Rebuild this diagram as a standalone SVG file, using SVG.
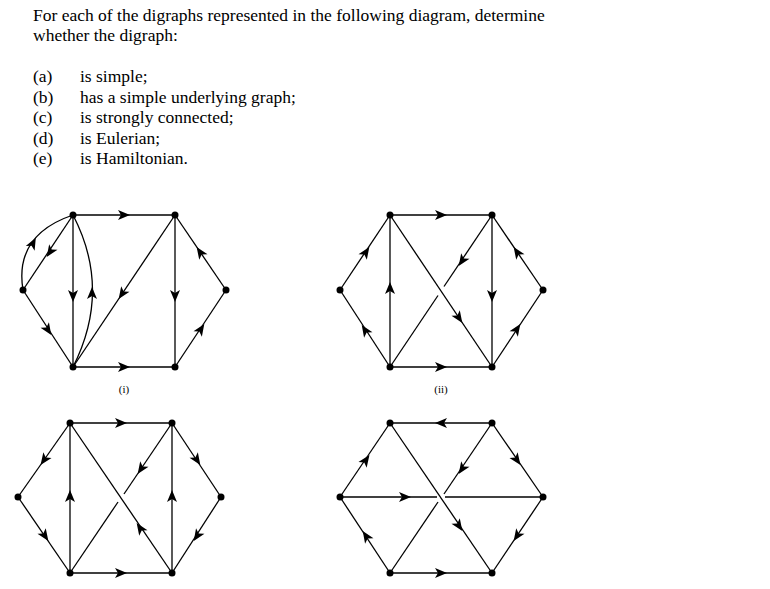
<svg xmlns="http://www.w3.org/2000/svg" width="770" height="589" viewBox="0 0 770 589">
<style>
text{font-family:"Liberation Serif","Times New Roman",serif;fill:#000}
.t{font-size:17.5px}
.s{font-size:11px}
line,path.e{stroke:#000;stroke-width:1.3;fill:none}
circle{fill:#000}
</style>
<defs>
<path id="a" d="M6,0 L-6,-5 L-3,0 L-6,5 Z" fill="#000"/>
</defs>
<rect width="770" height="589" fill="#fff"/>
<text class="t" x="33" y="21">For each of the digraphs represented in the following diagram, determine</text>
<text class="t" x="33" y="41">whether the digraph:</text>
<g>
<text class="t" x="33" y="82">(a)</text><text class="t" x="80" y="82">is simple;</text>
<text class="t" x="33" y="102.5">(b)</text><text class="t" x="80" y="102.5">has a simple underlying graph;</text>
<text class="t" x="33" y="123">(c)</text><text class="t" x="80" y="123">is strongly connected;</text>
<text class="t" x="33" y="143.5">(d)</text><text class="t" x="80" y="143.5">is Eulerian;</text>
<text class="t" x="33" y="164">(e)</text><text class="t" x="80" y="164">is Hamiltonian.</text>
</g>
<g id="connectors">
<line x1="73" y1="215" x2="175" y2="215"/>
<line x1="73" y1="215" x2="23" y2="290"/>
<path class="e" d="M23,290 Q14,235 73,215"/>
<line x1="73" y1="215" x2="73" y2="367"/>
<path class="e" d="M73,367 Q112,290 73,215"/>
<line x1="23" y1="290" x2="73" y2="367"/>
<line x1="175" y1="215" x2="73" y2="367"/>
<line x1="175" y1="215" x2="175" y2="367"/>
<line x1="73" y1="367" x2="175" y2="367"/>
<line x1="175" y1="367" x2="226" y2="290"/>
<line x1="226" y1="290" x2="175" y2="215"/>
<use href="#a" transform="translate(124,215)"/>
<use href="#a" transform="translate(50,252) rotate(123.7)"/>
<use href="#a" transform="translate(33,243) rotate(-62)"/>
<use href="#a" transform="translate(73,296) rotate(90)"/>
<use href="#a" transform="translate(92,293) rotate(-90)"/>
<use href="#a" transform="translate(48,330) rotate(57)"/>
<use href="#a" transform="translate(122,294) rotate(123.9)"/>
<use href="#a" transform="translate(175,296) rotate(90)"/>
<use href="#a" transform="translate(124,367)"/>
<use href="#a" transform="translate(201,329) rotate(-56.5)"/>
<use href="#a" transform="translate(200,252) rotate(-124.2)"/>
<line x1="390" y1="215" x2="492" y2="215"/>
<line x1="340" y1="290" x2="390" y2="215"/>
<line x1="390" y1="367" x2="340" y2="290"/>
<line x1="390" y1="367" x2="390" y2="215"/>
<line x1="390" y1="215" x2="492" y2="367"/>
<line x1="492" y1="215" x2="444" y2="286.5"/>
<line x1="438" y1="295.5" x2="390" y2="367"/>
<line x1="492" y1="215" x2="492" y2="367"/>
<line x1="390" y1="367" x2="492" y2="367"/>
<line x1="492" y1="367" x2="543" y2="290"/>
<line x1="543" y1="290" x2="492" y2="215"/>
<use href="#a" transform="translate(441,215)"/>
<use href="#a" transform="translate(366,252) rotate(-56.3)"/>
<use href="#a" transform="translate(365,330) rotate(-123)"/>
<use href="#a" transform="translate(390,288) rotate(-90)"/>
<use href="#a" transform="translate(459,318) rotate(56.1)"/>
<use href="#a" transform="translate(462,261) rotate(123.9)"/>
<use href="#a" transform="translate(492,296) rotate(90)"/>
<use href="#a" transform="translate(441,367)"/>
<use href="#a" transform="translate(517,329) rotate(-56.5)"/>
<use href="#a" transform="translate(517,252) rotate(-124)"/>
<line x1="70" y1="423" x2="172" y2="423"/>
<line x1="70" y1="423" x2="18" y2="497"/>
<line x1="18" y1="497" x2="70" y2="573"/>
<line x1="70" y1="573" x2="70" y2="423"/>
<line x1="172" y1="573" x2="70" y2="423"/>
<line x1="172" y1="423" x2="124" y2="494"/>
<line x1="118" y1="502" x2="70" y2="573"/>
<line x1="172" y1="573" x2="172" y2="423"/>
<line x1="70" y1="573" x2="172" y2="573"/>
<line x1="172" y1="423" x2="221" y2="497"/>
<line x1="221" y1="497" x2="172" y2="573"/>
<use href="#a" transform="translate(121,423)"/>
<use href="#a" transform="translate(44,460) rotate(125)"/>
<use href="#a" transform="translate(45,536) rotate(55.6)"/>
<use href="#a" transform="translate(70,496) rotate(-90)"/>
<use href="#a" transform="translate(140,528) rotate(-124)"/>
<use href="#a" transform="translate(141,469) rotate(124)"/>
<use href="#a" transform="translate(172,496) rotate(-90)"/>
<use href="#a" transform="translate(121,573)"/>
<use href="#a" transform="translate(197,460) rotate(56.5)"/>
<use href="#a" transform="translate(197,536) rotate(122.8)"/>
<line x1="492" y1="423" x2="390" y2="423"/>
<line x1="340" y1="497" x2="390" y2="423"/>
<line x1="390" y1="573" x2="340" y2="497"/>
<line x1="340" y1="497" x2="437" y2="497"/>
<line x1="445" y1="497" x2="543" y2="497"/>
<line x1="390" y1="423" x2="492" y2="573"/>
<line x1="492" y1="423" x2="444" y2="494"/>
<line x1="438" y1="502" x2="390" y2="573"/>
<line x1="492" y1="423" x2="543" y2="497"/>
<line x1="543" y1="497" x2="492" y2="573"/>
<line x1="390" y1="573" x2="492" y2="573"/>
<use href="#a" transform="translate(441,423) rotate(180)"/>
<use href="#a" transform="translate(366,460) rotate(-55)"/>
<use href="#a" transform="translate(366,536) rotate(-123)"/>
<use href="#a" transform="translate(405,497)"/>
<use href="#a" transform="translate(459,526) rotate(56)"/>
<use href="#a" transform="translate(462,469) rotate(124)"/>
<use href="#a" transform="translate(517,460) rotate(55)"/>
<use href="#a" transform="translate(517,536) rotate(124)"/>
<use href="#a" transform="translate(441,573)"/>
</g>
<g id="nodes-i"><circle cx="73" cy="215" r="3.5"/><circle cx="175" cy="215" r="3.5"/><circle cx="23" cy="290" r="3.5"/><circle cx="226" cy="290" r="3.5"/><circle cx="73" cy="367" r="3.5"/><circle cx="175" cy="367" r="3.5"/></g>
<g id="nodes-ii"><circle cx="390" cy="215" r="3.5"/><circle cx="492" cy="215" r="3.5"/><circle cx="340" cy="290" r="3.5"/><circle cx="543" cy="290" r="3.5"/><circle cx="390" cy="367" r="3.5"/><circle cx="492" cy="367" r="3.5"/></g>
<g id="nodes-iii"><circle cx="70" cy="423" r="3.5"/><circle cx="172" cy="423" r="3.5"/><circle cx="18" cy="497" r="3.5"/><circle cx="221" cy="497" r="3.5"/><circle cx="70" cy="573" r="3.5"/><circle cx="172" cy="573" r="3.5"/></g>
<g id="nodes-iv"><circle cx="390" cy="423" r="3.5"/><circle cx="492" cy="423" r="3.5"/><circle cx="340" cy="497" r="3.5"/><circle cx="543" cy="497" r="3.5"/><circle cx="390" cy="573" r="3.5"/><circle cx="492" cy="573" r="3.5"/></g>
<text class="s" x="124" y="393" text-anchor="middle">(i)</text>
<text class="s" x="441" y="393" text-anchor="middle">(ii)</text>
</svg>
